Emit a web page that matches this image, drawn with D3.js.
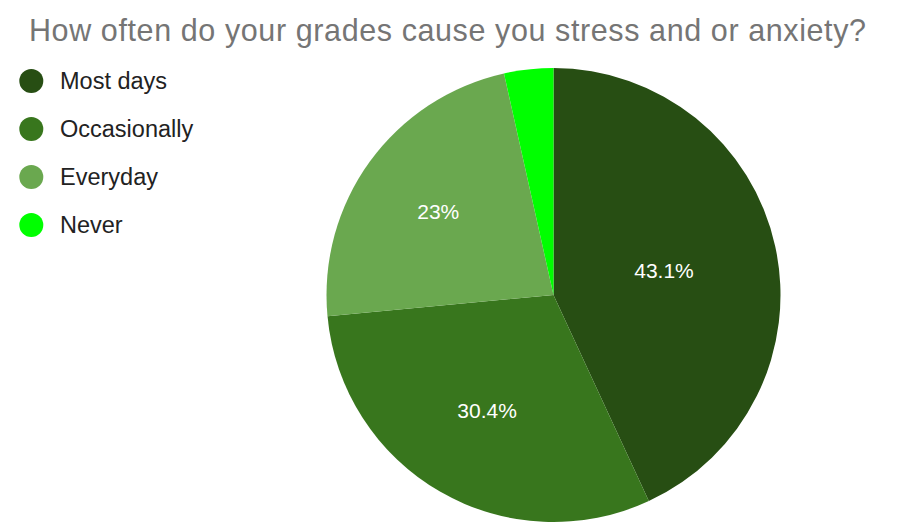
<!DOCTYPE html>
<html lang="en">
<head>
  <meta charset="UTF-8" />
  <title>How often do your grades cause you stress and or anxiety?</title>
  <style>
    html, body { margin: 0; padding: 0; background: #fff; }
    svg { display: block; font-family: "Liberation Sans", Arial, sans-serif; }
  </style>
</head>
<body>
  <svg id="chart"></svg>

  <script src="https://d3js.org/d3.v7.min.js"></script>
  <script>
    const categories = ["Most days", "Occasionally", "Everyday", "Never"];
    const values = [43.1, 30.4, 23, 3.5];
    const labels = ["43.1%", "30.4%", "23%", ""];
    const colors = ["#274e13", "#38761d", "#6aa84f", "#00ff00"];

    const width = 899, height = 526;
    const cx = 553.5, cy = 295, radius = 227;

    const svg = d3.select("#chart")
      .attr("width", width)
      .attr("height", height);

    svg.append("text")
      .attr("x", 29)
      .attr("y", 41)
      .attr("font-size", "30.5px")
      .attr("fill", "#757575")
      .attr("textLength", 837)
      .attr("lengthAdjust", "spacing")
      .text("How often do your grades cause you stress and or anxiety?");

    const color = d3.scaleOrdinal().domain(categories).range(colors);

    const pie = d3.pie().sort(null).value(d => d.value);
    const arcs = pie(categories.map((c, i) => ({ name: c, value: values[i], label: labels[i] })));

    const arc = d3.arc().innerRadius(0).outerRadius(radius);

    // label sits at the area centroid of the sector
    function labelPos(d) {
      const half = (d.endAngle - d.startAngle) / 2;
      const dist = (2 * radius * Math.sin(half)) / (3 * half) + 4;
      const mid = (d.startAngle + d.endAngle) / 2;
      return [Math.sin(mid) * dist, -Math.cos(mid) * dist];
    }

    const g = svg.append("g").attr("transform", `translate(${cx},${cy})`);

    g.selectAll("path")
      .data(arcs)
      .join("path")
      .attr("d", arc)
      .attr("fill", d => color(d.data.name));

    g.selectAll(".label")
      .data(arcs)
      .join("text")
      .attr("class", "label")
      .attr("transform", d => `translate(${labelPos(d)})`)
      .attr("text-anchor", "middle")
      .attr("dy", "0.35em")
      .attr("font-size", "21px")
      .attr("fill", "#fff")
      .text(d => d.data.label);

    // legend
    const legend = svg.append("g")
      .selectAll("g")
      .data(categories)
      .join("g")
      .attr("transform", (d, i) => `translate(31.3, ${81 + i * 48})`);

    legend.append("circle")
      .attr("r", 12)
      .attr("fill", d => color(d));

    legend.append("text")
      .attr("x", 28.7)
      .attr("dy", "0.35em")
      .attr("font-size", "23.5px")
      .attr("fill", "#222")
      .text(d => d);
  </script>
</body>
</html>
